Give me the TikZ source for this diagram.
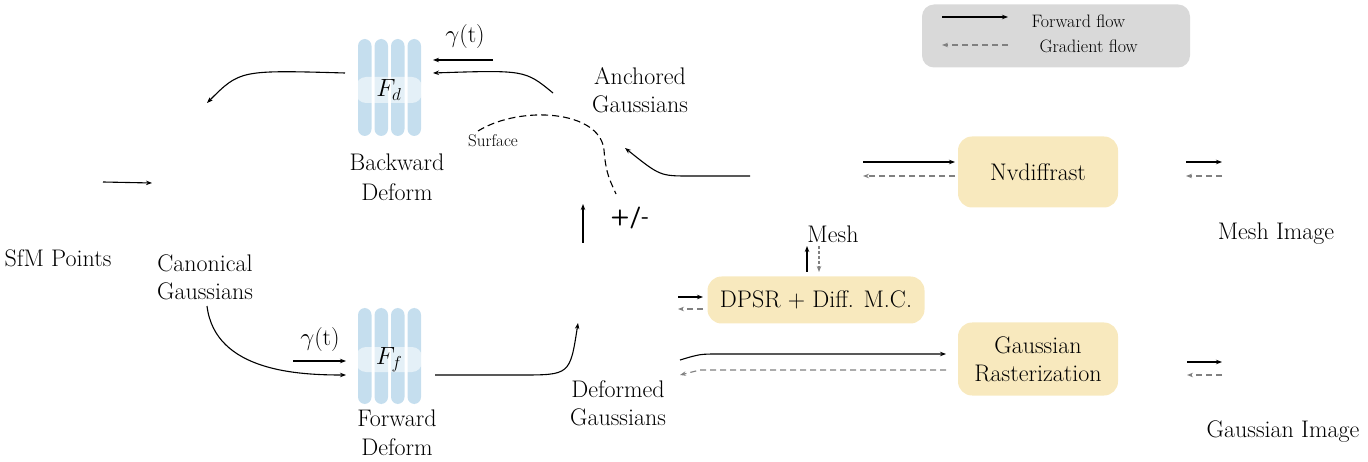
\documentclass[tikz,border=0pt]{standalone}
\usetikzlibrary{arrows.meta}
\begin{document}
\begin{tikzpicture}[x=1pt,y=-1pt,
  lbl/.style={font=\fontsize{24}{28}\selectfont,align=center,inner sep=0},
  fw/.style={-{Stealth[length=6pt,width=4.5pt]},line width=1.1pt},
  gr/.style={-{Stealth[length=6pt,width=4.5pt]},line width=1.1pt,gray,dash pattern=on 6pt off 4pt},
  box/.style={fill=boxy,rounded corners=14pt,draw=none},
  bar/.style={fill=bluey,rounded corners=7pt},
  band/.style={fill=white,fill opacity=0.55,rounded corners=10pt}]
\definecolor{boxy}{RGB}{248,233,190}
\definecolor{bluey}{RGB}{197,222,238}
\useasboundingbox (0,0) rectangle (1368,462);
% legend
\node[fill=black!15,rounded corners=12pt,minimum width=268pt,minimum height=63pt] (leg) at (1056,36) {};
\coordinate (l1a) at (942,17); \coordinate (l1b) at (1008,17);
\coordinate (l2a) at (1008,45); \coordinate (l2b) at (942,45);
\draw[fw] (l1a) -- (l1b); \draw[gr] (l2a) -- (l2b);
\node[font=\fontsize{18}{20}\selectfont,anchor=west] (t1) at (1028,21) {Forward flow};
\node[font=\fontsize{18}{20}\selectfont,anchor=west] (t2) at (1036,46) {Gradient flow};
% Fd block
\foreach \i in {0,1,2,3}{\fill[bar] (358+\i*16.5,39) rectangle ++(13.5,97);}
\fill[band] (356,77) rectangle (422,103);
\node[font=\fontsize{24}{26}\selectfont] (fd) at (389,90) {$F_d$};
\foreach \i in {0,1,2,3}{\fill[bar] (358+\i*16.5,308) rectangle ++(13.5,96);}
\fill[band] (356,347) rectangle (422,372);
\node[font=\fontsize{24}{26}\selectfont] (ff) at (389,360) {$F_f$};
% labels
\node[lbl,font=\fontsize{24}{30}\selectfont] (bd) at (397,177) {Backward\\Deform};
\node[lbl,font=\fontsize{24}{29}\selectfont] (fdf) at (397,433) {Forward\\Deform};
\node[lbl] (sfm) at (58,258) {SfM Points};
\node[lbl] (can) at (205,277) {Canonical\\Gaussians};
\node[lbl] (anc) at (640,90) {Anchored\\Gaussians};
\node[font=\fontsize{17}{19}\selectfont] (surf) at (493,141) {Surface};
\node[font=\fontsize{22}{24}\selectfont\sffamily\bfseries] (pm) at (630,218) {\textbf{+/-}};
\node[lbl] (mesh) at (833,234) {Mesh};
\node[lbl] (mimg) at (1276,234) {Mesh Image};
\node[lbl] (def) at (618,403) {Deformed\\Gaussians};
\node[lbl] (gimg) at (1283,432) {Gaussian Image};
\node[lbl] (g1) at (465,37) {$\gamma$(t)};
\node[lbl] (g2) at (320,340) {$\gamma$(t)};
% boxes
\node[box,minimum width=160pt,minimum height=71pt,lbl] (nv) at (1038,172) {Nvdiffrast};
\node[box,minimum width=217pt,minimum height=47pt,lbl] (dp) at (816,300) {DPSR + Diff. M.C.};
\node[box,minimum width=160pt,minimum height=73pt,lbl] (gr) at (1038,359) {Gaussian\\Rasterization};
% arrows
\coordinate (a1) at (103,182); \coordinate (a2) at (152,183);
\draw[fw] (a1) -- (a2);
\coordinate (b1) at (493,60); \coordinate (b2) at (433,60);
\draw[fw] (b1) -- (b2);
\coordinate (c1) at (553,93); \coordinate (c2) at (433,73);
\draw[fw] (c1) .. controls (525,70) .. (c2);
\coordinate (d1) at (345,73); \coordinate (d2) at (207,103);
\draw[fw] (d1) .. controls (240,70) .. (d2);
\coordinate (s1) at (478,131); \coordinate (s2) at (616,194);
\draw[line width=1.1pt,dash pattern=on 7pt off 4pt] (s1) .. controls (520,105) and (600,110) .. (604,150) .. controls (606,175) and (610,180) .. (s2);
\coordinate (u1) at (583,243); \coordinate (u2) at (583,204);
\draw[fw] (u1) -- (u2);
\coordinate (m1) at (750,176); \coordinate (m2) at (625,148);
\draw[fw] (m1) -- (690,176) .. controls (660,176) .. (m2);
\coordinate (k1) at (207,306); \coordinate (k2) at (346,375);
\draw[fw] (k1) .. controls (215,372) and (300,375) .. (k2);
\coordinate (h1) at (293,361); \coordinate (h2) at (346,361);
\draw[fw] (h1) -- (h2);
\coordinate (f1) at (435,375); \coordinate (f2) at (578,323);
\draw[fw] (f1) -- (520,375) .. controls (570,375) .. (f2);
% nvdiffrast
\coordinate (n1) at (863,162); \coordinate (n2) at (955,162);
\coordinate (n3) at (955,176); \coordinate (n4) at (863,176);
\draw[fw] (n1) -- (n2); \draw[gr] (n3) -- (n4);
\coordinate (n5) at (1186,162); \coordinate (n6) at (1222,162);
\coordinate (n7) at (1222,176); \coordinate (n8) at (1186,176);
\draw[fw] (n5) -- (n6); \draw[gr] (n7) -- (n8);
% dpsr
\coordinate (p1) at (678,297); \coordinate (p2) at (703,297);
\coordinate (p3) at (703,309); \coordinate (p4) at (678,309);
\draw[fw] (p1) -- (p2); \draw[gr] (p3) -- (p4);
\coordinate (q1) at (807,272); \coordinate (q2) at (807,246);
\coordinate (q3) at (819,246); \coordinate (q4) at (819,272);
\draw[fw] (q1) -- (q2); \draw[gr,dash pattern=on 3pt off 2pt] (q3) -- (q4);
% gaussian rasterization
\coordinate (r1) at (680,360); \coordinate (r2) at (946,354);
\draw[fw] (r1) .. controls (700,354) .. (720,354) -- (r2);
\coordinate (r3) at (946,370); \coordinate (r4) at (680,375);
\draw[gr] (r3) -- (700,370) -- (r4);
\coordinate (r5) at (1187,362); \coordinate (r6) at (1222,362);
\coordinate (r7) at (1222,375); \coordinate (r8) at (1187,375);
\draw[fw] (r5) -- (r6); \draw[gr] (r7) -- (r8);
\end{tikzpicture}
\end{document}
